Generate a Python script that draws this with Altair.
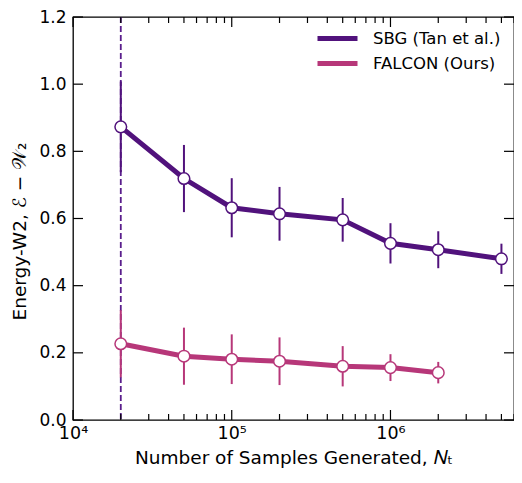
import altair as alt
import pandas as pd

# sample counts and measured Energy-W2 (mean +- spread)
sbg_n = [2e4, 5e4, 1e5, 2e5, 5e5, 1e6, 2e6, 5e6]
sbg_mean = [0.873, 0.719, 0.632, 0.614, 0.596, 0.526, 0.507, 0.480]
sbg_err = [0.135, 0.100, 0.088, 0.080, 0.065, 0.060, 0.055, 0.045]

falcon_n = [2e4, 5e4, 1e5, 2e5, 5e5, 1e6, 2e6]
falcon_mean = [0.227, 0.190, 0.181, 0.175, 0.160, 0.156, 0.141]
falcon_err = [0.100, 0.085, 0.074, 0.071, 0.060, 0.040, 0.032]

series = ["SBG (Tan et al.)", "FALCON (Ours)"]
colors = ["#51127c", "#b73779"]

cutoff_n = [2e4]
x_major = [1e4, 1e5, 1e6]
x_minor = [2e4, 3e4, 4e4, 5e4, 6e4, 7e4, 8e4, 9e4,
           2e5, 3e5, 4e5, 5e5, 6e5, 7e5, 8e5, 9e5,
           2e6, 3e6, 4e6, 5e6, 6e6]
y_ticks = [0.0, 0.2, 0.4, 0.6, 0.8, 1.0, 1.2]

W, H = 441, 403
FONT = "DejaVu Sans"


def _frame(name, n, mean, err):
    return pd.DataFrame({
        "method": name,
        "n": n,
        "value": mean,
        "lo": [m - e for m, e in zip(mean, err)],
        "hi": [m + e for m, e in zip(mean, err)],
    })


data = pd.concat([
    _frame(series[0], sbg_n, sbg_mean, sbg_err),
    _frame(series[1], falcon_n, falcon_mean, falcon_err),
], ignore_index=True)

x_scale = alt.Scale(type="log", domain=[1e4, 6e6], nice=False)
y_scale = alt.Scale(domain=[0, 1.2], nice=False, zero=False)
color = alt.Color(
    "method:N",
    scale=alt.Scale(domain=series, range=colors),
    legend=alt.Legend(
        title=None, orient="none", legendX=252, legendY=9,
        symbolType="M-2,0H2", symbolSize=400, symbolStrokeWidth=5,
        labelFont=FONT, labelFontSize=16.5, labelColor="#000",
        labelOffset=23, rowPadding=2, padding=0,
    ),
)

x_axis = alt.Axis(
    values=x_major, ticks=False, domain=False, grid=False,
    labelExpr="datum.value == 10000 ? '10⁴' : datum.value == 100000 ? '10⁵' : '10⁶'",
    labelFont=FONT, labelFontSize=17.5, labelColor="#000", labelPadding=4,
    labelFlush=False, labelOverlap=False,
    title="Number of Samples Generated, 𝑁ₜ", titleFont=FONT, titleFontSize=18.5,
    titleFontWeight="normal", titleColor="#000", titlePadding=7,
)
y_axis = alt.Axis(
    values=y_ticks, format=".1f", ticks=False, domain=False, grid=False,
    labelFont=FONT, labelFontSize=17, labelColor="#000", labelPadding=7,
    labelFlush=False, labelOverlap=False,
    title="Energy-W2, ℰ − 𝒲₂", titleFont=FONT, titleFontSize=18.5,
    titleFontWeight="normal", titleColor="#000", titlePadding=9, titleY=214,
)

base = alt.Chart(data)

lines = base.mark_line(strokeWidth=5).encode(
    x=alt.X("n:Q", scale=x_scale, axis=x_axis),
    y=alt.Y("value:Q", scale=y_scale, axis=y_axis),
    color=color,
)
bars = base.mark_rule(strokeWidth=2).encode(
    x="n:Q", y="lo:Q", y2="hi:Q",
    color=alt.Color("method:N", legend=None),
)
points = base.mark_point(filled=True, fill="white", size=135, strokeWidth=1.5, opacity=1).encode(
    x="n:Q", y="value:Q",
    stroke=alt.Stroke("method:N", scale=alt.Scale(domain=series, range=colors), legend=None),
)

cutoff = alt.Chart(pd.DataFrame({"n": cutoff_n})).mark_rule(
    color="#5a1e8c", strokeWidth=1.8, strokeDash=[6, 3]
).encode(x="n:Q", y=alt.value(0), y2=alt.value(H))

# inward ticks on all four sides
xmaj = pd.DataFrame({"n": x_major})
xmin = pd.DataFrame({"n": x_minor})
ytk = pd.DataFrame({"v": y_ticks})
tick_style = dict(color="#000", strokeWidth=1.2)
ticks = [
    alt.Chart(xmaj).mark_rule(**tick_style).encode(x="n:Q", y=alt.value(H), y2=alt.value(H - 10)),
    alt.Chart(xmaj).mark_rule(**tick_style).encode(x="n:Q", y=alt.value(0), y2=alt.value(10)),
    alt.Chart(xmin).mark_rule(**tick_style).encode(x="n:Q", y=alt.value(H), y2=alt.value(H - 6)),
    alt.Chart(xmin).mark_rule(**tick_style).encode(x="n:Q", y=alt.value(0), y2=alt.value(6)),
    alt.Chart(ytk).mark_rule(**tick_style).encode(y="v:Q", x=alt.value(0), x2=alt.value(10)),
    alt.Chart(ytk).mark_rule(**tick_style).encode(y="v:Q", x=alt.value(W), x2=alt.value(W - 10)),
]

chart = (
    alt.layer(lines, cutoff, bars, points, *ticks)
    .properties(
        width=W, height=H,
        autosize=alt.AutoSizeParams(type="none"),
        padding={"left": 65, "top": 9, "right": 0, "bottom": 50},
    )
    .configure_view(stroke="#000", strokeWidth=1.3)
)

chart.save("out.html", embed_options={"renderer": "svg", "actions": False})
